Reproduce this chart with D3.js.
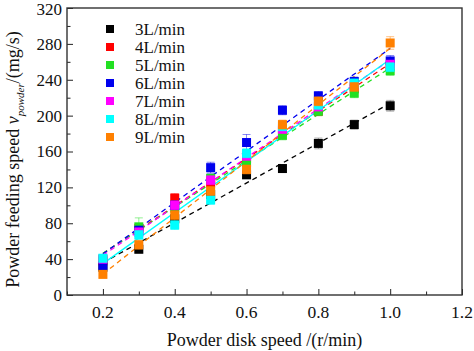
<!DOCTYPE html>
<html>
<head>
<meta charset="utf-8">
<script src="https://cdn.jsdelivr.net/npm/d3@7"></script>
<style>
  body { margin: 0; background: #fff; }
  svg { display: block; font-family: "Liberation Serif", "Times New Roman", serif; }
</style>
</head>
<body>
<svg id="chart" width="474" height="351"></svg>
<script>
const diskSpeed = [0.2, 0.3, 0.4, 0.5, 0.6, 0.7, 0.8, 0.9, 1.0];
const seriesNames = ['3L/min', '4L/min', '5L/min', '6L/min', '7L/min', '8L/min', '9L/min'];
const seriesColors = ['#000000', '#ff0000', '#22e022', '#0000ee', '#ff00ff', '#00ffff', '#ff8000'];

const flow3 = [31, 51, 85, 112, 134, 141, 169, 190, 211];
const flow4 = [38, 74, 108, 125, 152, 183, 205, 230, 255];
const flow5 = [40, 76, 97, 130, 148, 178, 205, 225, 250];
const flow6 = [33, 72, 100, 142, 170, 206, 222, 238, 261];
const flow7 = [40, 70, 100, 128, 155, 185, 210, 233, 257];
const flow8 = [41, 67, 78, 106, 158, 188, 212, 236, 254];
const flow9 = [23, 56, 89, 116, 140, 190, 216, 232, 281];

const err3 = [3, 4, 4, 4, 4, 4, 6, 5, 6];
const err4 = [4, 5, 5, 5, 5, 5, 5, 5, 6];
const err5 = [4, 10, 5, 5, 5, 5, 5, 5, 5];
const err6 = [4, 5, 5, 6, 9, 5, 5, 5, 6];
const err7 = [4, 5, 5, 5, 5, 5, 5, 5, 5];
const err8 = [4, 5, 5, 5, 5, 5, 5, 5, 5];
const err9 = [4, 5, 5, 5, 5, 5, 5, 5, 7];

const xTicks = [0.2, 0.4, 0.6, 0.8, 1.0, 1.2];
const yTicks = [0, 40, 80, 120, 160, 200, 240, 280, 320];

const allFlows = [flow3, flow4, flow5, flow6, flow7, flow8, flow9];
const allErrs = [err3, err4, err5, err6, err7, err8, err9];

const MARGIN = {top: 8, right: 12, bottom: 56, left: 67};
const WIDTH = 474, HEIGHT = 351;

const svg = d3.select('#chart');

const xScale = d3.scaleLinear()
    .domain([0.1, 1.2])
    .range([MARGIN.left, WIDTH - MARGIN.right]);
const yScale = d3.scaleLinear()
    .domain([0, 320])
    .range([HEIGHT - MARGIN.bottom, MARGIN.top]);

// least squares fit for each series
function fit(xs, ys) {
    let mx = d3.mean(xs), my = d3.mean(ys);
    let sxy = d3.sum(xs, (x, i) => (x - mx) * (ys[i] - my));
    let sxx = d3.sum(xs, x => (x - mx) * (x - mx));
    let b = sxy / sxx;
    return {a: my - b * mx, b: b};
}

const plot = svg.append('g');

// fit lines
allFlows.forEach((ys, k) => {
    let f = fit(diskSpeed, ys);
    let x0 = d3.min(diskSpeed), x1 = d3.max(diskSpeed);
    plot.append('line')
        .attr('x1', xScale(x0)).attr('y1', yScale(f.a + f.b * x0))
        .attr('x2', xScale(x1)).attr('y2', yScale(f.a + f.b * x1))
        .attr('stroke', seriesColors[k])
        .attr('stroke-width', 1.3)
        .attr('stroke-dasharray', k === 5 ? null : '5,4');
});

// error bars and markers
allFlows.forEach((ys, k) => {
    let g = plot.append('g');
    let errs = allErrs[k];
    diskSpeed.forEach((x, i) => {
        let cx = xScale(x);
        let yTop = yScale(ys[i] + errs[i]), yBot = yScale(ys[i] - errs[i]);
        let col = k === 0 ? '#555' : seriesColors[k];
        g.append('line').attr('x1', cx).attr('x2', cx).attr('y1', yTop).attr('y2', yBot)
            .attr('stroke', col).attr('stroke-width', 0.8).attr('opacity', 0.6);
        [yTop, yBot].forEach(yy => {
            g.append('line').attr('x1', cx - 4).attr('x2', cx + 4).attr('y1', yy).attr('y2', yy)
                .attr('stroke', col).attr('stroke-width', 0.8).attr('opacity', 0.6);
        });
    });
    g.selectAll('rect')
        .data(ys)
        .join('rect')
        .attr('x', (d, i) => xScale(diskSpeed[i]) - 4.5)
        .attr('y', d => yScale(d) - 4.5)
        .attr('width', 9)
        .attr('height', 9)
        .attr('fill', seriesColors[k]);
});

// axes
let xAxis = d3.axisBottom(xScale)
    .tickValues(d3.range(0.1, 1.21, 0.1))
    .tickSize(0)
    .tickFormat('');
svg.append('g')
    .attr('transform', `translate(0, ${HEIGHT - MARGIN.bottom})`)
    .call(xAxis)
    .call(g => g.select('.domain').remove())
    .call(g => g.selectAll('.tick line')
        .attr('y2', (d, i) => i % 2 === 1 ? -6 : -3.5)
        .attr('stroke', '#222'));

let yAxis = d3.axisLeft(yScale)
    .tickValues(d3.range(0, 321, 20))
    .tickSize(0)
    .tickFormat('');
svg.append('g')
    .attr('transform', `translate(${MARGIN.left}, 0)`)
    .call(yAxis)
    .call(g => g.select('.domain').remove())
    .call(g => g.selectAll('.tick line')
        .attr('x2', (d, i) => i % 2 === 0 ? 6 : 3.5)
        .attr('stroke', '#222'));

// tick labels
svg.append('g').selectAll('text')
    .data(xTicks)
    .join('text')
    .attr('x', d => xScale(d))
    .attr('y', HEIGHT - MARGIN.bottom + 23)
    .attr('text-anchor', 'middle')
    .attr('font-size', 17.5)
    .attr('fill', '#111')
    .text(d => d.toFixed(1));

svg.append('g').selectAll('text')
    .data(yTicks)
    .join('text')
    .attr('x', MARGIN.left - 5)
    .attr('y', d => yScale(d) + (d === 320 ? 1 : 0))
    .attr('dy', '0.35em')
    .attr('text-anchor', 'end')
    .attr('font-size', 17)
    .attr('fill', '#111')
    .text(d => d);

// frame
svg.append('rect')
    .attr('x', MARGIN.left)
    .attr('y', MARGIN.top)
    .attr('width', WIDTH - MARGIN.left - MARGIN.right)
    .attr('height', HEIGHT - MARGIN.top - MARGIN.bottom)
    .attr('fill', 'none')
    .attr('stroke', '#333')
    .attr('stroke-width', 1.4);

// axis titles
svg.append('text')
    .attr('x', (MARGIN.left + WIDTH - MARGIN.right) / 2)
    .attr('y', 346)
    .attr('text-anchor', 'middle')
    .attr('font-size', 18)
    .attr('fill', '#111')
    .text('Powder disk speed /(r/min)');

let yTitle = svg.append('text')
    .attr('transform', `translate(19, ${(MARGIN.top + HEIGHT - MARGIN.bottom) / 2 + 8}) rotate(-90)`)
    .attr('text-anchor', 'middle')
    .attr('font-size', 18)
    .attr('fill', '#111');
yTitle.append('tspan').text('Powder feeding speed ');
yTitle.append('tspan').attr('font-style', 'italic').text('v');
yTitle.append('tspan').attr('font-style', 'italic').attr('font-size', 11).attr('dy', 5).text('powder');
yTitle.append('tspan').attr('dy', -5).text('/(mg/s)');

// legend
let legend = svg.append('g');
seriesNames.forEach((name, k) => {
    let ly = 29 + k * 18;
    legend.append('rect')
        .attr('x', 106).attr('y', ly - 4)
        .attr('width', 8).attr('height', 8)
        .attr('fill', seriesColors[k]);
    legend.append('text')
        .attr('x', 135).attr('y', ly)
        .attr('dy', '0.35em')
        .attr('font-size', 17)
        .attr('fill', '#111')
        .text(name);
});
</script>
</body>
</html>
